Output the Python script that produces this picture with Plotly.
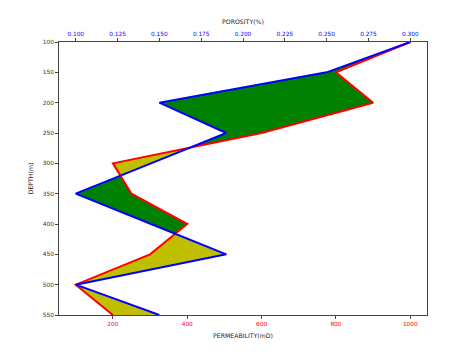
import plotly.graph_objects as go

# ---- data ----
depth = [100, 150, 200, 250, 300, 350, 400, 450, 500, 550]
permeability = [1000, 800, 900, 600, 200, 250, 400, 300, 100, 200]
porosity = [0.30, 0.25, 0.15, 0.19, 0.145, 0.10, 0.145, 0.19, 0.10, 0.15]

perm_ticks = [200, 400, 600, 800, 1000]
por_ticks = [0.100, 0.125, 0.150, 0.175, 0.200, 0.225, 0.250, 0.275, 0.300]
depth_ticks = [100, 150, 200, 250, 300, 350, 400, 450, 500, 550]

perm_range = [55, 1045]
por_range = [0.09, 0.31]

RED = "#ff0000"
BLUE = "#0000ff"
GREEN = "#008000"
YELLOW = "#bfbf00"


def por_to_perm(v):
    return perm_range[0] + (v - por_range[0]) / (por_range[1] - por_range[0]) * (perm_range[1] - perm_range[0])


por_eq = [por_to_perm(v) for v in porosity]

# build point list with crossing points inserted
pts = []
n = len(depth)
for i in range(n):
    d, p, q = depth[i], permeability[i], por_eq[i]
    pts.append((d, p, q))
    if i < n - 1:
        d2, p2, q2 = depth[i + 1], permeability[i + 1], por_eq[i + 1]
        f1, f2 = p - q, p2 - q2
        if abs(f1) > 1e-6 and abs(f2) > 1e-6 and f1 * f2 < 0:
            t = f1 / (f1 - f2)
            dc = d + t * (d2 - d)
            pc = p + t * (p2 - p)
            pts.append((dc, pc, pc))

regions = []
cur = [pts[0]]
for pt in pts[1:]:
    cur.append(pt)
    if abs(pt[1] - pt[2]) < 1e-6:
        regions.append(cur)
        cur = [pt]
if len(cur) > 1:
    regions.append(cur)

fig = go.Figure()

for reg in regions:
    s = sum(p - q for _, p, q in reg)
    color = GREEN if s > 0 else YELLOW
    xs = [p for _, p, _ in reg] + [q for _, _, q in reversed(reg)]
    ys = [d for d, _, _ in reg] + [d for d, _, _ in reversed(reg)]
    fig.add_trace(go.Scatter(x=xs, y=ys, mode="lines", fill="toself",
                             fillcolor=color, line=dict(width=0),
                             hoverinfo="skip", showlegend=False,
                             xaxis="x", yaxis="y"))

fig.add_trace(go.Scatter(x=permeability, y=depth, mode="lines",
                         line=dict(color=RED, width=2), showlegend=False,
                         xaxis="x", yaxis="y"))
fig.add_trace(go.Scatter(x=porosity, y=depth, mode="lines",
                         line=dict(color=BLUE, width=2), showlegend=False,
                         xaxis="x2", yaxis="y"))

tick_font = dict(family="DejaVu Sans", size=5.8)
title_font = dict(family="DejaVu Sans", size=6.2, color="#222")

fig.update_layout(
    width=474, height=354,
    margin=dict(l=59, r=47, t=42, b=39),
    paper_bgcolor="white", plot_bgcolor="white",
    showlegend=False,
    xaxis=dict(range=perm_range, tickvals=perm_ticks,
               ticktext=[str(v) for v in perm_ticks],
               tickfont=dict(tick_font, color=RED),
               ticks="outside", ticklen=3, tickcolor="#444",
               showline=True, linecolor="#444", linewidth=1, mirror=False,
               showgrid=False, zeroline=False,
               title=dict(text="PERMEABILITY(mD)", font=title_font, standoff=7)),
    xaxis2=dict(range=por_range, tickvals=por_ticks,
                ticktext=["%.3f" % v for v in por_ticks],
                tickfont=dict(tick_font, color=BLUE),
                overlaying="x", side="top",
                ticks="outside", ticklen=3, tickcolor="#444",
                showline=True, linecolor="#444", linewidth=1,
                showgrid=False, zeroline=False,
                title=dict(text="POROSITY(%)", font=title_font, standoff=5)),
    yaxis=dict(range=[550, 100], tickvals=depth_ticks,
               ticktext=[str(v) for v in depth_ticks],
               tickfont=dict(tick_font, color="#333"),
               ticks="outside", ticklen=3, tickcolor="#444",
               showline=True, linecolor="#444", linewidth=1, mirror=True,
               showgrid=False, zeroline=False,
               title=dict(text="DEPTH(m)", font=title_font, standoff=8)),
)

fig.write_html("out.html")
